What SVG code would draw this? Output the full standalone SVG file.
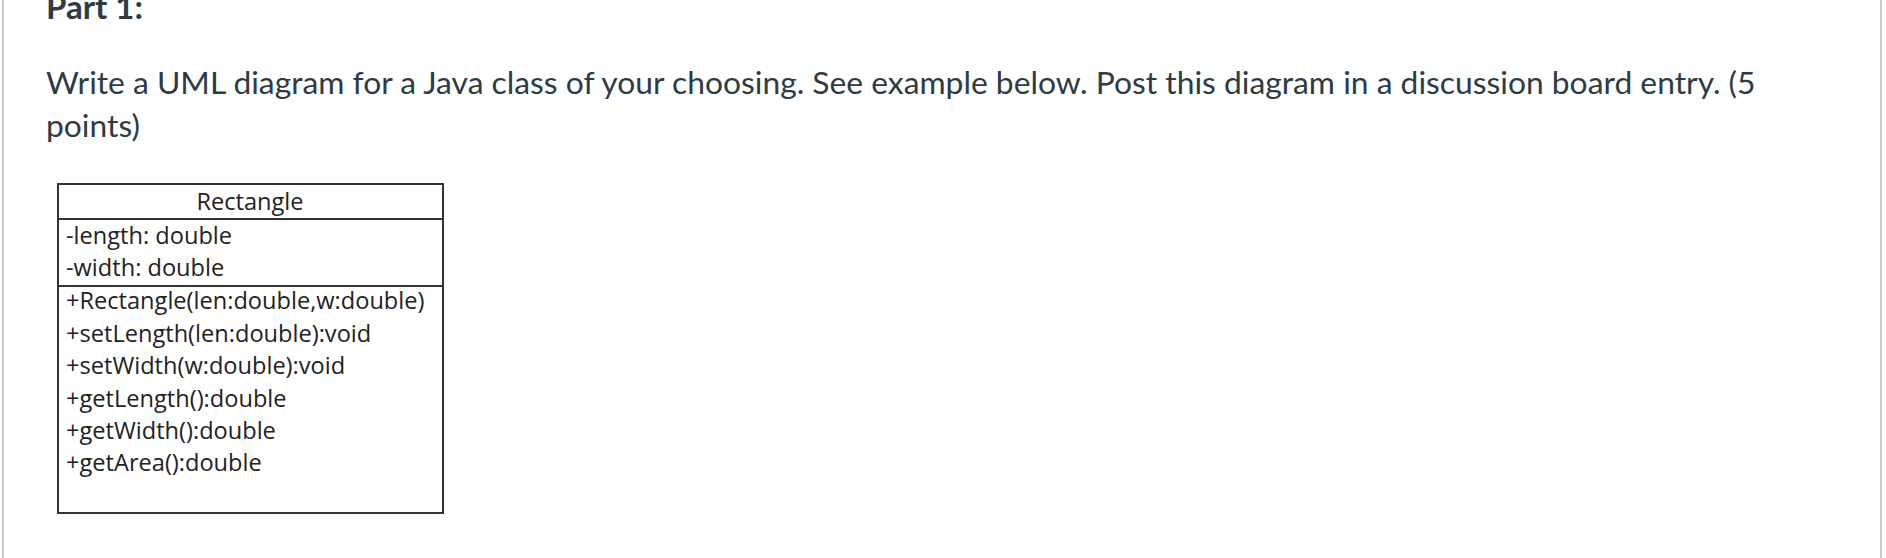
<svg xmlns="http://www.w3.org/2000/svg" width="1886" height="558" viewBox="0 0 1886 558">
<style>
.page{font-family:Lato,"Open Sans","Liberation Sans",sans-serif;fill:#2d3b45}
.uml{font-family:"Open Sans","Liberation Sans",sans-serif;font-size:23.6px;fill:#222222}
.box{fill:#ffffff;stroke:#333333;stroke-width:2}
.div{stroke:#333333;stroke-width:2}
</style>
<rect x="0" y="0" width="1886" height="558" fill="#ffffff"/>
<line x1="3" y1="0" x2="3" y2="558" stroke="#c7cdd1" stroke-width="2"/>
<line x1="1881" y1="0" x2="1881" y2="558" stroke="#c7cdd1" stroke-width="2"/>
<g id="heading">
<text class="page" x="46" y="19" font-size="33" font-weight="bold">Part 1:</text>
</g>
<g id="instructions">
<text class="page" x="46" y="94" font-size="31.8">Write a UML diagram for a Java class of your choosing. See example below. Post this diagram in a discussion board entry. (5</text>
<text class="page" x="46" y="137" font-size="31.8">points)</text>
</g>
<g id="rectangle-class">
<rect class="box" x="58" y="184" width="385" height="329"/>
<line class="div" x1="58" y1="219" x2="443" y2="219"/>
<line class="div" x1="58" y1="286" x2="443" y2="286"/>
<text class="uml" x="250" y="210" text-anchor="middle">Rectangle</text>
<text class="uml" x="66" y="244">-length: double</text>
<text class="uml" x="66" y="276">-width: double</text>
<text class="uml" x="66" y="309">+Rectangle(len:double,w:double)</text>
<text class="uml" x="66" y="342">+setLength(len:double):void</text>
<text class="uml" x="66" y="374">+setWidth(w:double):void</text>
<text class="uml" x="66" y="407">+getLength():double</text>
<text class="uml" x="66" y="439">+getWidth():double</text>
<text class="uml" x="66" y="471">+getArea():double</text>
</g>
</svg>
